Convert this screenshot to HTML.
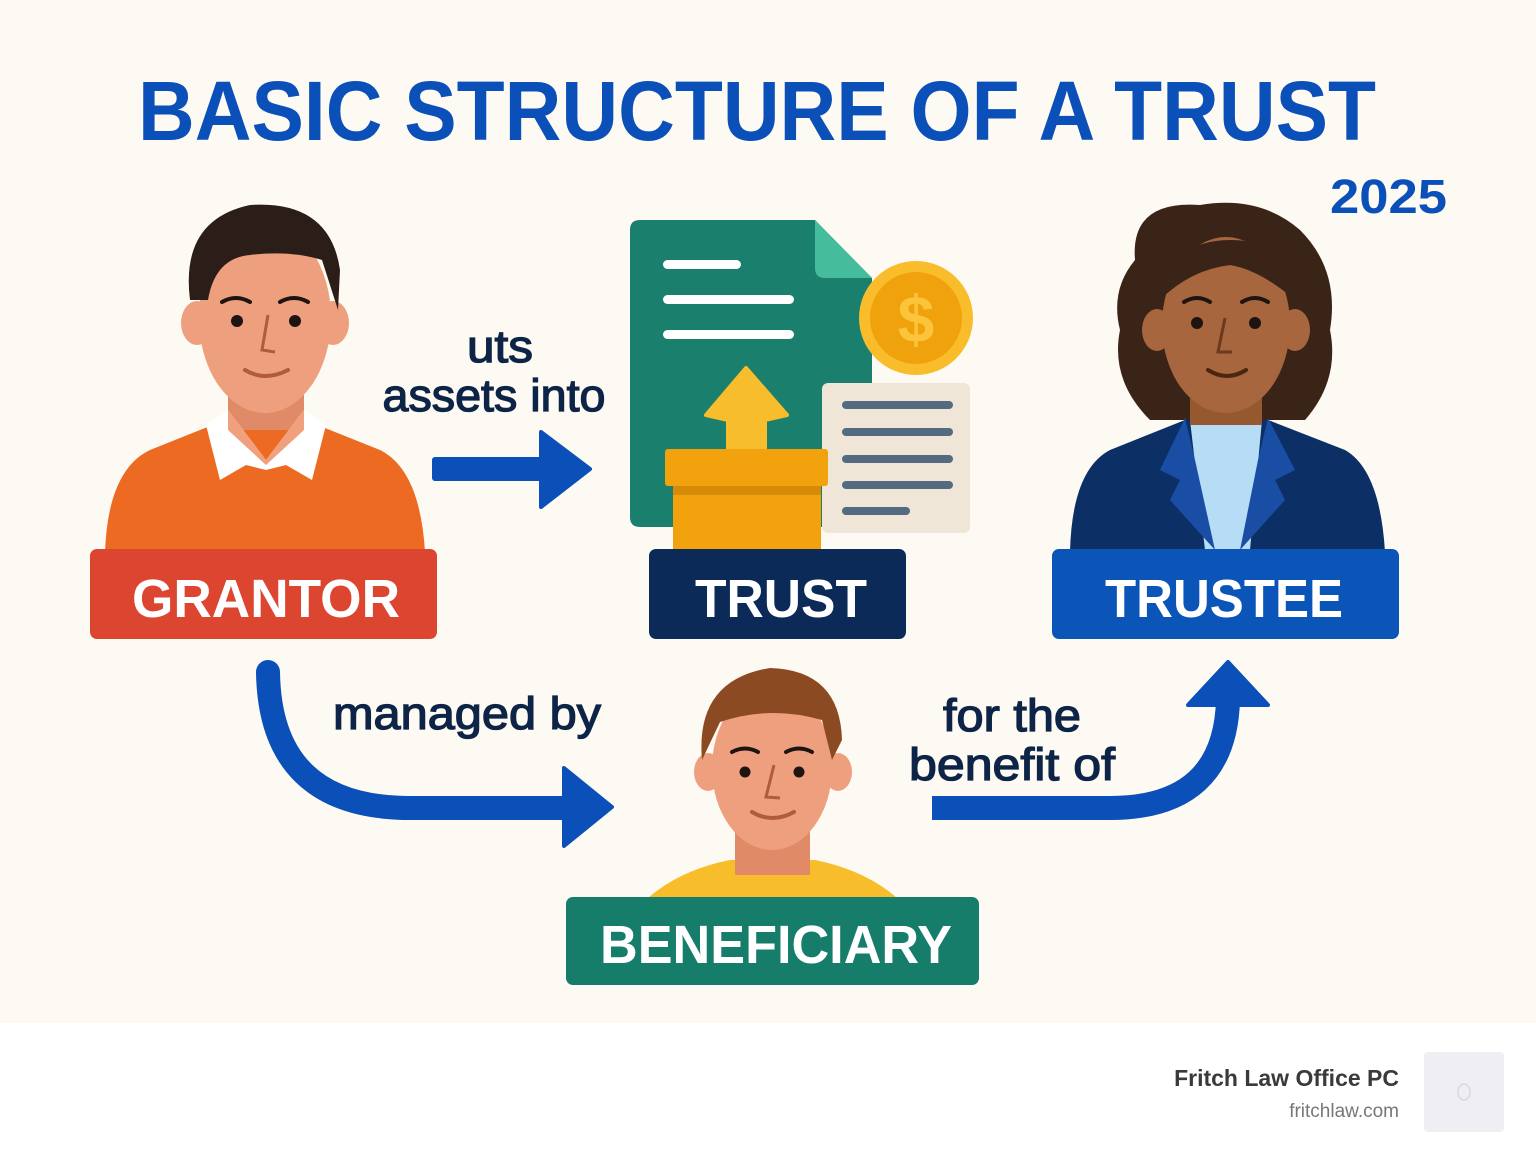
<!DOCTYPE html>
<html><head><meta charset="utf-8"><style>
html,body{margin:0;padding:0;background:#fff}
svg{display:block}
text{font-family:"Liberation Sans",sans-serif}
</style></head><body>
<svg width="1536" height="1154" viewBox="0 0 1536 1154" xmlns="http://www.w3.org/2000/svg">
<rect x="0" y="0" width="1536" height="1023" fill="#fdfaf3"/>
<rect x="0" y="1023" width="1536" height="131" fill="#ffffff"/>

<text x="757" y="140" text-anchor="middle" font-size="84" font-weight="bold" fill="#0b4fb8" textLength="1238" lengthAdjust="spacingAndGlyphs">BASIC STRUCTURE OF A TRUST</text>
<text x="1447" y="213" text-anchor="end" font-size="48" font-weight="bold" fill="#0b4fb8" textLength="117" lengthAdjust="spacingAndGlyphs">2025</text>

<!-- GRANTOR person -->
<path d="M105 552 Q108 470 150 450 L225 420 L305 420 L380 450 Q420 470 425 552 Z" fill="#ec6a22"/>
<rect x="228" y="380" width="76" height="50" fill="#e08a68"/>
<path d="M206 425 L228 410 L266 460 L304 410 L326 425 L312 480 L286 465 L266 470 L246 465 L220 480 Z" fill="#ffffff"/>
<path d="M228 410 L266 460 L304 410 L304 430 L266 465 L228 430Z" fill="#f0a07c"/>
<ellipse cx="197" cy="323" rx="16" ry="22" fill="#eea07e"/>
<ellipse cx="333" cy="323" rx="16" ry="22" fill="#eea07e"/>
<ellipse cx="265" cy="318" rx="66" ry="95" fill="#eea07e"/>
<path d="M190 300 Q180 220 250 205 Q330 200 340 270 L338 310 L322 260 Q290 250 250 255 Q215 258 208 300 Z" fill="#2b1d17"/>
<circle cx="237" cy="321" r="6" fill="#1e1512"/><circle cx="295" cy="321" r="6" fill="#1e1512"/>
<path d="M222 302 Q236 294 250 302 M280 302 Q294 294 308 302" stroke="#1e1512" stroke-width="4" fill="none" stroke-linecap="round"/>
<path d="M268 315 L262 350 L275 352" stroke="#b05a40" stroke-width="3" fill="none"/>
<path d="M245 370 Q265 382 288 370" stroke="#b05a40" stroke-width="4" fill="none" stroke-linecap="round"/>

<rect x="90" y="549" width="347" height="90" rx="7" fill="#dc4530"/>
<text x="266" y="617" text-anchor="middle" font-size="54" font-weight="bold" fill="#fff" textLength="268" lengthAdjust="spacingAndGlyphs">GRANTOR</text>

<!-- TRUST icon -->
<path d="M640 220 L815 220 L872 278 L872 527 L640 527 Q630 527 630 517 L630 230 Q630 220 640 220Z" fill="#1a7f6c"/>
<path d="M815 220 L872 278 L825 278 Q815 278 815 268Z" fill="#45bd9c"/>
<rect x="663" y="260" width="78" height="9" rx="4.5" fill="#fff"/>
<rect x="663" y="295" width="131" height="9" rx="4.5" fill="#fff"/>
<rect x="663" y="330" width="131" height="9" rx="4.5" fill="#fff"/>
<circle cx="916" cy="318" r="57" fill="#f9bd2c"/>
<circle cx="916" cy="318" r="46" fill="#f0a20c"/>
<text x="916" y="342" text-anchor="middle" font-size="66" font-weight="bold" fill="#fbc43a">$</text>
<rect x="822" y="383" width="148" height="150" rx="6" fill="#efe6d7"/>
<rect x="842" y="401" width="111" height="8" rx="4" fill="#546a80"/>
<rect x="842" y="428" width="111" height="8" rx="4" fill="#546a80"/>
<rect x="842" y="455" width="111" height="8" rx="4" fill="#546a80"/>
<rect x="842" y="481" width="111" height="8" rx="4" fill="#546a80"/>
<rect x="842" y="507" width="68" height="8" rx="4" fill="#546a80"/>
<path d="M746 368 L787 415 L765 420 L765 452 L728 452 L728 420 L706 415 Z" fill="#f8bd2c" stroke="#f8bd2c" stroke-width="4" stroke-linejoin="round"/>
<rect x="673" y="486" width="148" height="64" fill="#f2a20c"/>
<rect x="673" y="486" width="148" height="9" fill="#d68a08"/>
<rect x="665" y="449" width="163" height="37" rx="3" fill="#f2a20c"/>

<rect x="649" y="549" width="257" height="90" rx="7" fill="#0b2a57"/>
<text x="781" y="617" text-anchor="middle" font-size="54" font-weight="bold" fill="#fff" textLength="172" lengthAdjust="spacingAndGlyphs">TRUST</text>

<!-- TRUSTEE person -->
<path d="M1135 260 Q1130 200 1200 205 Q1260 195 1300 230 Q1340 270 1330 330 Q1340 380 1305 420 L1150 420 Q1110 380 1120 330 Q1110 290 1135 260Z" fill="#3a2418"/>
<path d="M1070 552 Q1072 470 1110 450 L1185 420 L1268 420 L1345 450 Q1380 470 1385 552Z" fill="#0c2f66"/>
<path d="M1190 420 L1262 420 L1250 550 L1205 550Z" fill="#b6dcf6"/>
<path d="M1185 418 L1160 470 L1180 480 L1170 500 L1215 550 L1195 460Z" fill="#1a4ea5"/>
<path d="M1268 418 L1295 470 L1275 480 L1285 500 L1240 550 L1258 460Z" fill="#1a4ea5"/>
<rect x="1190" y="385" width="72" height="40" fill="#96582f"/>
<ellipse cx="1157" cy="330" rx="15" ry="21" fill="#a8663f"/>
<ellipse cx="1295" cy="330" rx="15" ry="21" fill="#a8663f"/>
<ellipse cx="1226" cy="325" rx="64" ry="88" fill="#a8663f"/>
<path d="M1160 300 Q1170 240 1230 240 Q1290 240 1295 300 Q1260 270 1230 265 Q1190 270 1160 300Z" fill="#3a2418"/>
<circle cx="1197" cy="323" r="6" fill="#1e1512"/><circle cx="1255" cy="323" r="6" fill="#1e1512"/>
<path d="M1184 302 Q1197 294 1210 302 M1242 302 Q1255 294 1268 302" stroke="#1e1512" stroke-width="4" fill="none" stroke-linecap="round"/>
<path d="M1225 318 L1218 352 L1232 352" stroke="#6b3a1e" stroke-width="3" fill="none"/>
<path d="M1208 370 Q1227 382 1246 370" stroke="#4a2612" stroke-width="4" fill="none" stroke-linecap="round"/>

<rect x="1052" y="549" width="347" height="90" rx="7" fill="#0b55b8"/>
<text x="1224" y="617" text-anchor="middle" font-size="54" font-weight="bold" fill="#fff" textLength="238" lengthAdjust="spacingAndGlyphs">TRUSTEE</text>

<!-- BENEFICIARY person -->
<path d="M648 898 Q680 870 730 860 L815 860 Q865 870 897 898Z" fill="#f7bd2a"/>
<rect x="735" y="830" width="75" height="45" fill="#e08a68"/>
<ellipse cx="708" cy="772" rx="14" ry="19" fill="#eea07e"/>
<ellipse cx="838" cy="772" rx="14" ry="19" fill="#eea07e"/>
<ellipse cx="772" cy="768" rx="60" ry="82" fill="#eea07e"/>
<path d="M702 760 Q695 680 770 668 Q840 670 842 740 L832 760 L822 720 Q770 705 720 722 Z" fill="#8b4a22"/>
<circle cx="745" cy="772" r="5.5" fill="#1e1512"/><circle cx="799" cy="772" r="5.5" fill="#1e1512"/>
<path d="M732 752 Q745 745 758 752 M786 752 Q799 745 812 752" stroke="#1e1512" stroke-width="4" fill="none" stroke-linecap="round"/>
<path d="M774 765 L766 797 L780 798" stroke="#b05a40" stroke-width="3" fill="none"/>
<path d="M752 812 Q772 824 794 812" stroke="#b05a40" stroke-width="4" fill="none" stroke-linecap="round"/>

<rect x="566" y="897" width="413" height="88" rx="7" fill="#167d6b"/>
<text x="776" y="963" text-anchor="middle" font-size="54" font-weight="bold" fill="#fff" textLength="352" lengthAdjust="spacingAndGlyphs">BENEFICIARY</text>

<!-- Arrows -->
<g fill="#0b4fb8">
<rect x="432" y="457" width="115" height="24" rx="3"/>
<path d="M541 432 L590 469 L541 507Z" stroke="#0b4fb8" stroke-width="4" stroke-linejoin="round"/>
<path d="M564 768 L612 807 L564 846Z" stroke="#0b4fb8" stroke-width="4" stroke-linejoin="round"/>
<path d="M1188 705 L1228 662 L1268 705Z" stroke="#0b4fb8" stroke-width="4" stroke-linejoin="round"/>
</g>
<path d="M268 672 Q270 808 410 808 L570 808" stroke="#0b4fb8" stroke-width="24" fill="none" stroke-linecap="round"/>
<path d="M932 808 L1110 808 Q1225 808 1228 700" stroke="#0b4fb8" stroke-width="24" fill="none" stroke-linecap="butt"/>

<g fill="#0d2447" stroke="#0d2447" stroke-width="1.3" font-size="45" text-anchor="middle">
<text x="500" y="362" textLength="66" lengthAdjust="spacingAndGlyphs">uts</text>
<text x="494" y="411" textLength="223" lengthAdjust="spacingAndGlyphs">assets into</text>
<text x="467" y="729" textLength="268" lengthAdjust="spacingAndGlyphs">managed by</text>
<text x="1012" y="731" textLength="138" lengthAdjust="spacingAndGlyphs">for the</text>
<text x="1012" y="780" textLength="206" lengthAdjust="spacingAndGlyphs">benefit of</text>
</g>

<!-- footer -->
<text x="1399" y="1086" text-anchor="end" font-size="23" font-weight="bold" fill="#3a3a3a">Fritch Law Office PC</text>
<text x="1399" y="1117" text-anchor="end" font-size="19" fill="#777">fritchlaw.com</text>
<rect x="1424" y="1052" width="80" height="80" rx="4" fill="#efeff3"/>
<ellipse cx="1464" cy="1092" rx="6" ry="8" fill="none" stroke="#d8d8de" stroke-width="1.5"/>
</svg>
</body></html>
